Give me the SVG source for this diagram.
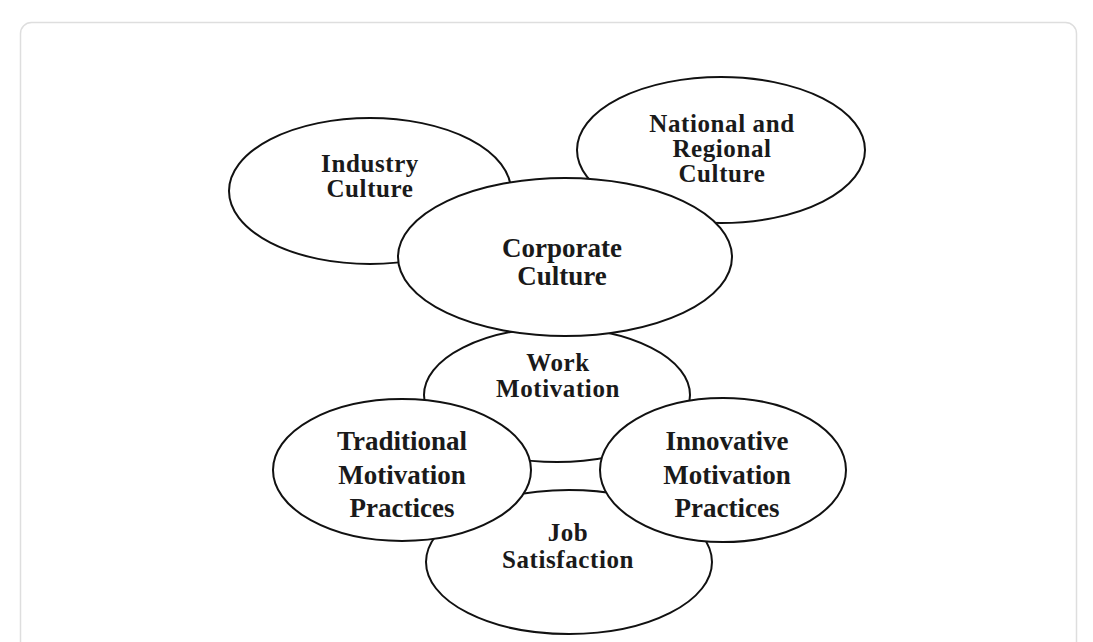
<svg xmlns="http://www.w3.org/2000/svg" width="1093" height="642" viewBox="0 0 1093 642">
<style>
.card{fill:#fff;stroke:#dedede;stroke-width:1.5}
.node ellipse{fill:#fff;stroke:#111;stroke-width:2}
.node text{font-family:"Liberation Serif","Times New Roman",serif;font-weight:bold;font-size:27px;fill:#1a1a1a;text-anchor:middle}
.node text.tight{font-size:25px;letter-spacing:0.6px}
</style>
<rect class="card" x="20.5" y="22.5" width="1056" height="640" rx="11"/>
<g id="connectors"></g>
<g id="industry-culture" class="node">
<ellipse cx="370" cy="191" rx="141" ry="73"/>
<text class="tight" x="370" y="172">Industry</text>
<text class="tight" x="370" y="197">Culture</text>
</g>
<g id="national-regional-culture" class="node">
<ellipse cx="721" cy="150" rx="144" ry="73"/>
<text class="tight" x="722" y="132">National  and</text>
<text class="tight" x="722" y="157">Regional</text>
<text class="tight" x="722" y="182">Culture</text>
</g>
<g id="work-motivation" class="node">
<ellipse cx="557" cy="395" rx="133" ry="67"/>
<text class="tight" x="558" y="371">Work</text>
<text class="tight" x="558" y="397">Motivation</text>
</g>
<g id="corporate-culture" class="node">
<ellipse cx="565" cy="257" rx="167" ry="79"/>
<text x="562" y="257">Corporate</text>
<text x="562" y="285">Culture</text>
</g>
<g id="job-satisfaction" class="node">
<ellipse cx="569" cy="562" rx="143" ry="72"/>
<text class="tight" x="568" y="541">Job</text>
<text class="tight" x="568" y="568">Satisfaction</text>
</g>
<g id="traditional-motivation-practices" class="node">
<ellipse cx="402" cy="470" rx="129" ry="71"/>
<text x="402" y="450">Traditional</text>
<text x="402" y="484">Motivation</text>
<text x="402" y="517">Practices</text>
</g>
<g id="innovative-motivation-practices" class="node">
<ellipse cx="723" cy="470" rx="123" ry="72"/>
<text x="727" y="450">Innovative</text>
<text x="727" y="484">Motivation</text>
<text x="727" y="517">Practices</text>
</g>
</svg>
